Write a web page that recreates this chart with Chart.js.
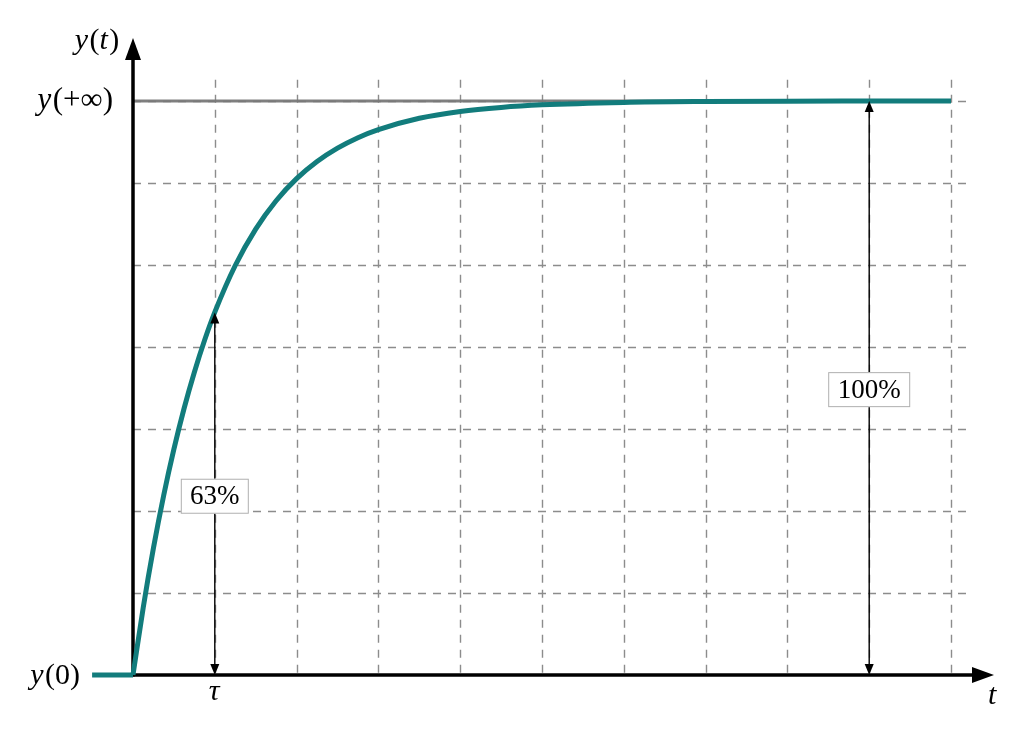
<!DOCTYPE html>
<html><head><meta charset="utf-8">
<script src="https://cdn.jsdelivr.net/npm/chart.js@4.4.1/dist/chart.umd.min.js"></script>
<style>html,body{margin:0;padding:0;background:#fff;}canvas{display:block;}</style>
</head><body>
<canvas id="c" width="1024" height="730"></canvas>
<script>
// time in units of tau, response in grid units (7 = y(+inf))
const flatT = [-0.5, 0];
const flatY = [0, 0];
const curveT = [0, 0.125, 0.25, 0.375, 0.5, 0.625, 0.75, 0.875, 1.0, 1.25, 1.5, 1.75, 2.0, 2.25, 2.5, 2.75, 3.0, 3.5, 4.0, 4.5, 5.0, 6.0, 7.0, 8.0, 9.0, 10.0];
const curveY = [0, 0.823, 1.548, 2.189, 2.754, 3.253, 3.693, 4.082, 4.425, 4.994, 5.438, 5.784, 6.053, 6.262, 6.425, 6.553, 6.651, 6.789, 6.872, 6.922, 6.953, 6.983, 6.994, 6.998, 6.999, 7.0];
const finalT = [0, 10];
const finalY = [7, 7];
const gridT = [1, 2, 3, 4, 5, 6, 7, 8, 9, 10];
const gridY = [1, 2, 3, 4, 5, 6, 7];
const tauValue = 1;      // 63% arrow position
const tauLevel = 4.42;   // 63% of final value
const fullT = 9;         // 100% arrow position
const fullLevel = 7;
const label63 = "63%";
const label100 = "100%";

const pts = (xs, ys) => xs.map((x, i) => ({x, y: ys[i]}));
const TEAL = 'rgb(18,124,124)';
const SERIF = '"Liberation Serif", "DejaVu Serif", serif';

function drawMath(ctx, parts, x, y, align, size) {
  let total = 0;
  const w = parts.map(p => { ctx.font = (p[1] ? 'italic ' : '') + size + 'px ' + SERIF; const m = ctx.measureText(p[0]).width + (p[1] ? 1.5 : 0); total += m; return m; });
  let cx = align === 'right' ? x - total : align === 'center' ? x - total / 2 : x;
  ctx.textBaseline = 'middle'; ctx.textAlign = 'left'; ctx.fillStyle = '#000';
  parts.forEach((p, i) => { ctx.font = (p[1] ? 'italic ' : '') + size + 'px ' + SERIF; ctx.fillText(p[0], cx, y); cx += w[i]; });
}
function arrowHead(ctx, x, y, dir, len, half) {
  ctx.beginPath();
  if (dir === 'up') { ctx.moveTo(x, y); ctx.lineTo(x - half, y + len); ctx.lineTo(x + half, y + len); }
  else if (dir === 'down') { ctx.moveTo(x, y); ctx.lineTo(x - half, y - len); ctx.lineTo(x + half, y - len); }
  else { ctx.moveTo(x, y); ctx.lineTo(x - len, y - half); ctx.lineTo(x - len, y + half); }
  ctx.closePath(); ctx.fill();
}
function box(ctx, text, cx, cy, w, h) {
  ctx.fillStyle = '#fff'; ctx.fillRect(cx - w / 2, cy - h / 2, w, h);
  ctx.strokeStyle = '#b0b0b0'; ctx.lineWidth = 1; ctx.strokeRect(cx - w / 2 + 0.5, cy - h / 2 + 0.5, w - 1, h - 1);
  ctx.fillStyle = '#000'; ctx.font = '27px ' + SERIF; ctx.textAlign = 'center'; ctx.textBaseline = 'middle';
  ctx.fillText(text, cx, cy + 1);
}

const decor = {
  id: 'decor',
  beforeDatasetsDraw(chart) {
    const {ctx, scales: {x, y}} = chart;
    ctx.save();
    ctx.strokeStyle = '#8c8c8c'; ctx.lineWidth = 1.4; ctx.setLineDash([8, 7]);
    gridT.forEach(t => { ctx.beginPath(); ctx.moveTo(Math.round(x.getPixelForValue(t)) + 0.5, y.getPixelForValue(7.26)); ctx.lineTo(Math.round(x.getPixelForValue(t)) + 0.5, y.getPixelForValue(0)); ctx.stroke(); });
    gridY.forEach(v => { ctx.beginPath(); ctx.moveTo(x.getPixelForValue(0), Math.round(y.getPixelForValue(v)) + 0.5); ctx.lineTo(x.getPixelForValue(10.24), Math.round(y.getPixelForValue(v)) + 0.5); ctx.stroke(); });
    ctx.restore();
  },
  afterDatasetDraw(chart, args) {
    if (args.index !== 2) return;
    const {ctx, scales: {x, y}} = chart;
    const x0 = x.getPixelForValue(0), y0 = y.getPixelForValue(0);
    ctx.save();
    ctx.strokeStyle = '#000'; ctx.fillStyle = '#000'; ctx.lineWidth = 3.5; ctx.setLineDash([]);
    ctx.beginPath(); ctx.moveTo(x0, y0 + 1.5); ctx.lineTo(x0, 58); ctx.stroke();
    arrowHead(ctx, x0, 38, 'up', 22, 8);
    ctx.beginPath(); ctx.moveTo(x0, y0); ctx.lineTo(972, y0); ctx.stroke();
    ctx.save(); ctx.translate(994, y0); arrowHead(ctx, 0, 0, 'right', 22, 8); ctx.restore();
    ctx.restore();
  },
  afterDatasetsDraw(chart) {
    const {ctx, scales: {x, y}} = chart;
    ctx.save();
    ctx.strokeStyle = '#000'; ctx.fillStyle = '#000'; ctx.lineWidth = 1.4;
    [[tauValue, tauLevel], [fullT, fullLevel]].forEach(([t, lv]) => {
      const px = x.getPixelForValue(t), yb = y.getPixelForValue(0), yt = y.getPixelForValue(lv);
      ctx.beginPath(); ctx.moveTo(px, yb - 9); ctx.lineTo(px, yt + 9); ctx.stroke();
      arrowHead(ctx, px, yt, 'up', 11, 4.5); arrowHead(ctx, px, yb, 'down', 11, 4.5);
    });
    box(ctx, label63, x.getPixelForValue(tauValue), y.getPixelForValue(2.18), 68, 35);
    box(ctx, label100, x.getPixelForValue(fullT), y.getPixelForValue(3.48), 82, 35);
    const y0 = y.getPixelForValue(0);
    drawMath(ctx, [['y', true], ['(', false], ['t', true], [')', false]], 97, 41, 'center', 30);
    drawMath(ctx, [['y', true], ['(+∞)', false]], 113, y.getPixelForValue(7), 'right', 31);
    drawMath(ctx, [['y', true], ['(0)', false]], 80, y0 + 1, 'right', 30);
    drawMath(ctx, [['τ', true]], x.getPixelForValue(tauValue), y0 + 17, 'center', 30);
    drawMath(ctx, [['t', true]], 993, y0 + 21, 'center', 30);
    ctx.restore();
  }
};

new Chart(document.getElementById('c'), {
  type: 'line',
  data: { datasets: [
    { data: pts(curveT, curveY), borderColor: TEAL, borderWidth: 5, pointRadius: 0, cubicInterpolationMode: 'monotone', order: 0, borderCapStyle: 'butt' },
    { data: pts(flatT, flatY), borderColor: TEAL, borderWidth: 5, pointRadius: 0, order: 1 },
    { data: pts(finalT, finalY), borderColor: 'rgba(120,120,120,0.95)', borderWidth: 3, pointRadius: 0, order: 2 }
  ]},
  options: {
    responsive: false, animation: false, events: [],
    layout: { padding: 0 },
    plugins: { legend: { display: false }, tooltip: { enabled: false } },
    scales: {
      x: { type: 'linear', display: false, min: -133 / 81.8, max: (1024 - 133) / 81.8 },
      y: { type: 'linear', display: false, min: -(730 - 675) / 82, max: 675 / 82 }
    }
  },
  plugins: [decor]
});
</script>
</body></html>
